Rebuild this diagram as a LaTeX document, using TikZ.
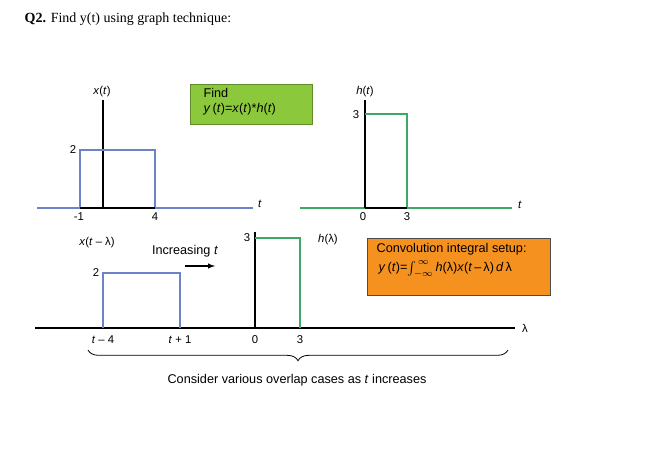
\documentclass[tikz,border=0pt]{standalone}
\usepackage{fontspec}
\setmainfont{Liberation Sans}
\newfontfamily\serif{Liberation Serif}
\usetikzlibrary{decorations.pathreplacing}
\definecolor{bl}{RGB}{110,130,200}
\definecolor{gr}{RGB}{60,170,100}
\definecolor{gbox}{RGB}{140,200,60}
\definecolor{obox}{RGB}{245,145,30}
\newcommand{\vi}[1]{\textit{#1}}
\begin{document}
\begin{tikzpicture}[x=0.75pt,y=-0.75pt,
  lab/.style={font=\fontsize{8.5}{10}\selectfont,inner sep=1pt},
  ax/.style={line width=0.8pt},
  txt/.style={font=\fontsize{9.5}{11}\selectfont,inner sep=1pt}]
\useasboundingbox (0,0) rectangle (656,471);
\node[anchor=west,font=\serif\fontsize{10.5}{12}\selectfont] (title) at (20,19) {\textbf{Q2.} Find y(t) using graph technique:};
% top-left
\draw[bl,ax] (37,208) -- (253,208);
\node[lab] (t1) at (260,204) {\vi{t}};
\draw[ax] (103,100) -- (103,208);
\draw[bl,ax] (80,208) -- (80,150) -- (155,150) -- (155,208);
\draw[ax] (80,208) -- (155,208);
\node[lab] (x2) at (73,150) {2};
\node[lab] (xm1) at (79,217) {-1};
\node[lab] (x4) at (155,217) {4};
\node[lab] (xt) at (102,92) {\vi{x}(\vi{t})};
\node[fill=gbox,draw=gbox!70!black,minimum width=122*0.75pt,minimum height=40*0.75pt,anchor=north west] (find) at (190,84) {};
\node[txt,anchor=north west,align=left] (findt) at (202,87) {Find\\\vi{y}\,(\vi{t})=\vi{x}(\vi{t})*\vi{h}(\vi{t})};
% top-right
\draw[gr,ax] (300,208) -- (512,208);
\node[lab] (t2) at (520,205) {\vi{t}};
\draw[ax] (365,100) -- (365,208);
\draw[gr,ax] (365,114) -- (407,114) -- (407,208);
\draw[ax] (365,208) -- (407,208);
\node[lab] (h3) at (356,115) {3};
\node[lab] (h0) at (363,217) {0};
\node[lab] (h3b) at (407,217) {3};
\node[lab] (ht) at (365,92) {\vi{h}(\vi{t})};
% bottom
\draw[ax] (35,328) -- (515,328);
\node[lab] (lam) at (525,328) {λ};
\draw[bl,ax] (103,328) -- (103,273) -- (180,273) -- (180,328);
\node[lab] (b2) at (96,273) {2};
\node[lab] (xtl) at (97,243) {\vi{x}(\vi{t} – λ)};
\node[txt] (inc) at (185,251) {Increasing \vi{t}};
\coordinate (a1) at (185,266); \coordinate (a2) at (215,266);
\draw[-latex,line width=0.8pt] (a1) -- (a2);
\draw[ax] (255,232) -- (255,328);
\draw[gr,ax] (255,238) -- (300,238) -- (300,328);
\node[lab] (b3) at (247,238) {3};
\node[lab] (hl) at (328,240) {\vi{h}(λ)};
\node[lab] (l1) at (103,340) {\vi{t} – 4};
\node[lab] (l2) at (180,340) {\vi{t} + 1};
\node[lab] (l3) at (255,340) {0};
\node[lab] (l4) at (300,340) {3};
\node[fill=obox,draw=black!70,minimum width=183*0.75pt,minimum height=57*0.75pt,anchor=north west] (conv) at (367,238) {};
\node[txt,anchor=north west,align=left] (convt) at (375,242) {Convolution integral setup:};
\node[txt,anchor=north west] (convf) at (377,261) {\vi{y}\,(\vi{t})=\smash{$\int_{-\infty}^{\,\infty}$}\,\vi{h}(λ)\vi{x}(\vi{t}\,–\,λ)\,\vi{d}\,λ};
\coordinate (br1) at (88,350); \coordinate (br2) at (508,350);
\draw[decorate,decoration={brace,mirror,amplitude=8pt},line width=0.6pt] (br1) -- (br2);
\node[txt] (cons) at (297,380) {Consider various overlap cases as \vi{t} increases};
\end{tikzpicture}
\end{document}
